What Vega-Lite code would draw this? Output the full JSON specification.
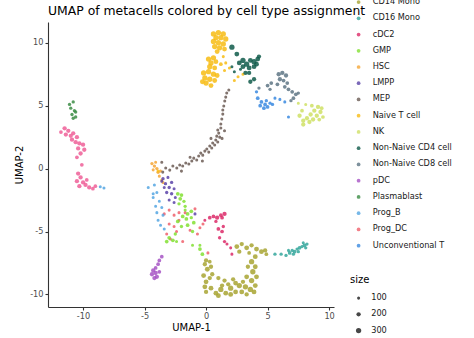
{
"$schema": "https://vega.github.io/schema/vega-lite/v6.json",
"width": 286, "height": 285,
"autosize": {"type": "none"},
"padding": {"left": 48, "top": 22, "right": 140, "bottom": 31},
"background": "white",
"title": {"text": "UMAP of metacells colored by cell type assignment", "anchor": "start", "frame": "group", "fontSize": 12.4, "font": "DejaVu Sans", "fontWeight": "normal", "color": "#000", "offset": -51},
"config": {"view": {"stroke": null}, "font": "DejaVu Sans"},
"data": {"values": [
{"x":2.5,"y":-6.2,"type":"CD14 Mono","size":250},{"x":2.9,"y":-6.0,"type":"CD14 Mono","size":200},{"x":3.3,"y":-6.3,"type":"CD14 Mono","size":250},{"x":3.7,"y":-6.1,"type":"CD14 Mono","size":200},{"x":4.1,"y":-6.4,"type":"CD14 Mono","size":250},{"x":4.5,"y":-6.6,"type":"CD14 Mono","size":250},{"x":4.8,"y":-6.5,"type":"CD14 Mono","size":200},{"x":4.9,"y":-6.8,"type":"CD14 Mono","size":150},{"x":2.7,"y":-6.6,"type":"CD14 Mono","size":200},{"x":3.5,"y":-6.7,"type":"CD14 Mono","size":150},
{"x":4.0,"y":-7.0,"type":"CD14 Mono","size":250},{"x":3.7,"y":-7.4,"type":"CD14 Mono","size":300},{"x":4.0,"y":-7.8,"type":"CD14 Mono","size":250},{"x":3.8,"y":-8.2,"type":"CD14 Mono","size":300},{"x":4.1,"y":-8.6,"type":"CD14 Mono","size":250},{"x":3.7,"y":-8.9,"type":"CD14 Mono","size":300},{"x":4.0,"y":-9.3,"type":"CD14 Mono","size":250},{"x":3.6,"y":-9.6,"type":"CD14 Mono","size":300},{"x":3.9,"y":-9.8,"type":"CD14 Mono","size":250},{"x":3.4,"y":-7.8,"type":"CD14 Mono","size":200},{"x":3.3,"y":-8.6,"type":"CD14 Mono","size":250},
{"x":3.2,"y":-9.4,"type":"CD14 Mono","size":300},{"x":2.9,"y":-9.8,"type":"CD14 Mono","size":250},{"x":2.7,"y":-9.3,"type":"CD14 Mono","size":300},{"x":2.4,"y":-9.8,"type":"CD14 Mono","size":250},{"x":2.0,"y":-9.5,"type":"CD14 Mono","size":300},{"x":1.6,"y":-9.9,"type":"CD14 Mono","size":250},{"x":1.2,"y":-9.6,"type":"CD14 Mono","size":300},{"x":0.8,"y":-9.9,"type":"CD14 Mono","size":250},{"x":0.4,"y":-9.5,"type":"CD14 Mono","size":250},{"x":0.0,"y":-9.8,"type":"CD14 Mono","size":200},{"x":-0.1,"y":-9.4,"type":"CD14 Mono","size":250},{"x":3.3,"y":-10.0,"type":"CD14 Mono","size":200},{"x":2.0,"y":-10.0,"type":"CD14 Mono","size":250},{"x":1.0,"y":-10.1,"type":"CD14 Mono","size":250},{"x":2.4,"y":-9.1,"type":"CD14 Mono","size":250},{"x":1.8,"y":-9.2,"type":"CD14 Mono","size":200},{"x":3.0,"y":-9.0,"type":"CD14 Mono","size":200},{"x":1.3,"y":-9.3,"type":"CD14 Mono","size":200},
{"x":0.0,"y":-9.0,"type":"CD14 Mono","size":250},{"x":0.3,"y":-8.7,"type":"CD14 Mono","size":200},{"x":-0.2,"y":-8.5,"type":"CD14 Mono","size":250},{"x":0.5,"y":-8.4,"type":"CD14 Mono","size":200},{"x":1.0,"y":-8.7,"type":"CD14 Mono","size":200},{"x":0.1,"y":-8.0,"type":"CD14 Mono","size":250},{"x":-0.1,"y":-7.6,"type":"CD14 Mono","size":200},{"x":0.4,"y":-7.8,"type":"CD14 Mono","size":200},{"x":0.3,"y":-7.4,"type":"CD14 Mono","size":150},{"x":0.0,"y":-7.3,"type":"CD14 Mono","size":200},{"x":1.5,"y":-8.9,"type":"CD14 Mono","size":200},{"x":2.2,"y":-8.8,"type":"CD14 Mono","size":200},
{"x":5.6,"y":-6.8,"type":"CD16 Mono","size":120},{"x":6.1,"y":-6.8,"type":"CD16 Mono","size":120},{"x":6.5,"y":-6.9,"type":"CD16 Mono","size":120},{"x":6.8,"y":-6.7,"type":"CD16 Mono","size":150},{"x":7.0,"y":-6.5,"type":"CD16 Mono","size":120},{"x":7.2,"y":-6.6,"type":"CD16 Mono","size":150},{"x":7.4,"y":-6.4,"type":"CD16 Mono","size":120},{"x":7.6,"y":-6.3,"type":"CD16 Mono","size":150},{"x":7.8,"y":-6.2,"type":"CD16 Mono","size":120},{"x":8.0,"y":-6.1,"type":"CD16 Mono","size":150},{"x":8.2,"y":-6.0,"type":"CD16 Mono","size":120},{"x":7.1,"y":-6.8,"type":"CD16 Mono","size":120},{"x":6.7,"y":-6.5,"type":"CD16 Mono","size":100},{"x":7.5,"y":-6.6,"type":"CD16 Mono","size":120},{"x":7.9,"y":-5.9,"type":"CD16 Mono","size":100},{"x":8.1,"y":-6.3,"type":"CD16 Mono","size":120},
{"x":0.3,"y":-3.9,"type":"cDC2","size":150},{"x":0.6,"y":-3.8,"type":"cDC2","size":150},{"x":0.9,"y":-3.9,"type":"cDC2","size":200},{"x":1.2,"y":-3.7,"type":"cDC2","size":150},{"x":1.5,"y":-3.6,"type":"cDC2","size":200},{"x":1.3,"y":-3.9,"type":"cDC2","size":150},{"x":0.8,"y":-4.2,"type":"cDC2","size":120},{"x":1.0,"y":-4.8,"type":"cDC2","size":150},{"x":1.3,"y":-5.0,"type":"cDC2","size":150},{"x":1.1,"y":-5.5,"type":"cDC2","size":120},{"x":1.5,"y":-5.8,"type":"cDC2","size":120},{"x":1.7,"y":-6.0,"type":"cDC2","size":100},{"x":2.0,"y":-6.3,"type":"cDC2","size":100},{"x":2.1,"y":-6.8,"type":"cDC2","size":100},{"x":1.4,"y":-4.6,"type":"cDC2","size":120},{"x":-0.1,"y":-4.1,"type":"cDC2","size":100},
{"x":-3.4,"y":-3.6,"type":"Prog_DC","size":100},{"x":-3.0,"y":-3.3,"type":"Prog_DC","size":100},{"x":-2.6,"y":-3.7,"type":"Prog_DC","size":100},{"x":-2.2,"y":-3.5,"type":"Prog_DC","size":100},{"x":-1.7,"y":-3.5,"type":"Prog_DC","size":100},{"x":-0.9,"y":-3.2,"type":"Prog_DC","size":100},{"x":-3.0,"y":-4.4,"type":"Prog_DC","size":100},{"x":-2.2,"y":-4.1,"type":"Prog_DC","size":100},{"x":-2.6,"y":-4.6,"type":"Prog_DC","size":100},{"x":-1.3,"y":-4.9,"type":"Prog_DC","size":100},{"x":-3.2,"y":-5.2,"type":"Prog_DC","size":100},{"x":-2.9,"y":-5.6,"type":"Prog_DC","size":100},{"x":-0.5,"y":-4.7,"type":"Prog_DC","size":100},{"x":-0.25,"y":-4.4,"type":"Prog_DC","size":100},{"x":-0.7,"y":-5.2,"type":"Prog_DC","size":100},{"x":0.15,"y":-6.7,"type":"Prog_DC","size":100},{"x":-1.9,"y":-5.8,"type":"Prog_DC","size":100},{"x":-2.4,"y":-5.0,"type":"Prog_DC","size":100},
{"x":-2.3,"y":-2.0,"type":"GMP","size":150},{"x":-2.0,"y":-2.1,"type":"GMP","size":150},{"x":-2.1,"y":-2.4,"type":"GMP","size":150},{"x":-1.8,"y":-2.6,"type":"GMP","size":120},{"x":-2.2,"y":-2.8,"type":"GMP","size":120},{"x":-1.7,"y":-3.0,"type":"GMP","size":120},{"x":-1.7,"y":-3.3,"type":"GMP","size":100},{"x":-1.5,"y":-3.6,"type":"GMP","size":150},{"x":-1.2,"y":-3.4,"type":"GMP","size":150},{"x":-1.9,"y":-3.8,"type":"GMP","size":150},{"x":-2.3,"y":-4.2,"type":"GMP","size":150},{"x":-1.6,"y":-4.0,"type":"GMP","size":150},{"x":-1.2,"y":-3.9,"type":"GMP","size":120},{"x":-1.0,"y":-4.3,"type":"GMP","size":150},{"x":-1.5,"y":-4.5,"type":"GMP","size":150},{"x":-2.0,"y":-4.6,"type":"GMP","size":120},{"x":-1.1,"y":-5.0,"type":"GMP","size":120},{"x":-2.5,"y":-5.2,"type":"GMP","size":120},{"x":-3.0,"y":-5.5,"type":"GMP","size":150},{"x":-2.7,"y":-5.7,"type":"GMP","size":150},{"x":-3.2,"y":-5.8,"type":"GMP","size":150},{"x":-2.4,"y":-5.8,"type":"GMP","size":100},{"x":-1.1,"y":-6.1,"type":"GMP","size":100},{"x":-0.5,"y":-6.4,"type":"GMP","size":150},{"x":-0.3,"y":-6.8,"type":"GMP","size":150},{"x":-0.5,"y":-6.1,"type":"GMP","size":100},
{"x":-4.4,"y":0.4,"type":"HSC","size":120},{"x":-4.2,"y":0.2,"type":"HSC","size":120},{"x":-4.0,"y":0.0,"type":"HSC","size":120},{"x":-4.3,"y":-0.1,"type":"HSC","size":100},{"x":-3.9,"y":-0.3,"type":"HSC","size":120},{"x":-3.8,"y":-0.6,"type":"HSC","size":100},{"x":-3.6,"y":-0.9,"type":"HSC","size":100},{"x":-3.5,"y":-1.1,"type":"HSC","size":100},{"x":-4.1,"y":0.5,"type":"HSC","size":100},{"x":-3.7,"y":-0.2,"type":"HSC","size":100},
{"x":-3.5,"y":-0.8,"type":"LMPP","size":120},{"x":-3.1,"y":-0.7,"type":"LMPP","size":100},{"x":-3.3,"y":-1.2,"type":"LMPP","size":120},{"x":-2.8,"y":-1.1,"type":"LMPP","size":120},{"x":-3.0,"y":-1.5,"type":"LMPP","size":120},{"x":-2.6,"y":-1.6,"type":"LMPP","size":100},{"x":-3.2,"y":-1.9,"type":"LMPP","size":120},{"x":-2.8,"y":-2.0,"type":"LMPP","size":120},{"x":-2.5,"y":-2.3,"type":"LMPP","size":100},{"x":-3.0,"y":-2.5,"type":"LMPP","size":100},{"x":-2.6,"y":-2.7,"type":"LMPP","size":100},{"x":-3.4,"y":-1.5,"type":"LMPP","size":100},{"x":-0.9,"y":-3.6,"type":"LMPP","size":100},{"x":-3.6,"y":-1.0,"type":"LMPP","size":100},
{"x":-4.7,"y":-1.5,"type":"Prog_B","size":100},{"x":-4.2,"y":-1.3,"type":"Prog_B","size":100},{"x":-4.0,"y":-1.9,"type":"Prog_B","size":100},{"x":-4.3,"y":-2.3,"type":"Prog_B","size":100},{"x":-3.8,"y":-2.6,"type":"Prog_B","size":100},{"x":-4.1,"y":-3.0,"type":"Prog_B","size":100},{"x":-3.6,"y":-3.1,"type":"Prog_B","size":100},{"x":-4.0,"y":-3.5,"type":"Prog_B","size":100},{"x":-3.5,"y":-3.7,"type":"Prog_B","size":100},{"x":-3.9,"y":-4.1,"type":"Prog_B","size":100},{"x":-3.7,"y":-4.5,"type":"Prog_B","size":100},{"x":-4.3,"y":-2.0,"type":"Prog_B","size":100},{"x":-3.4,"y":-4.8,"type":"Prog_B","size":100},{"x":-8.6,"y":-1.45,"type":"Prog_B","size":100},{"x":-8.3,"y":-1.55,"type":"Prog_B","size":100},
{"x":-3.52,"y":-0.28,"type":"MEP","size":100},{"x":-3.28,"y":0.04,"type":"MEP","size":100},{"x":-2.95,"y":-0.12,"type":"MEP","size":100},{"x":-2.7,"y":0.2,"type":"MEP","size":100},{"x":-2.38,"y":0.04,"type":"MEP","size":100},{"x":-2.14,"y":0.28,"type":"MEP","size":100},{"x":-1.9,"y":0.2,"type":"MEP","size":100},{"x":-1.65,"y":0.44,"type":"MEP","size":100},{"x":-1.4,"y":0.36,"type":"MEP","size":100},{"x":-1.16,"y":0.6,"type":"MEP","size":100},{"x":-1.0,"y":0.83,"type":"MEP","size":100},{"x":-0.76,"y":0.68,"type":"MEP","size":100},{"x":-0.6,"y":1.0,"type":"MEP","size":100},{"x":-0.43,"y":1.23,"type":"MEP","size":100},{"x":-0.27,"y":1.07,"type":"MEP","size":100},{"x":-0.1,"y":1.39,"type":"MEP","size":100},{"x":0.06,"y":1.55,"type":"MEP","size":100},{"x":0.22,"y":1.31,"type":"MEP","size":100},{"x":0.3,"y":1.79,"type":"MEP","size":100},{"x":0.46,"y":1.63,"type":"MEP","size":100},{"x":0.54,"y":2.03,"type":"MEP","size":100},{"x":0.7,"y":1.87,"type":"MEP","size":100},{"x":0.79,"y":2.27,"type":"MEP","size":100},{"x":0.95,"y":2.11,"type":"MEP","size":100},{"x":0.87,"y":2.58,"type":"MEP","size":100},{"x":1.03,"y":2.82,"type":"MEP","size":100},{"x":1.11,"y":2.5,"type":"MEP","size":100},{"x":0.95,"y":3.06,"type":"MEP","size":100},{"x":1.2,"y":3.22,"type":"MEP","size":100},{"x":1.2,"y":3.54,"type":"MEP","size":100},{"x":1.28,"y":3.94,"type":"MEP","size":100},{"x":1.36,"y":4.33,"type":"MEP","size":100},{"x":1.36,"y":4.65,"type":"MEP","size":100},{"x":1.44,"y":4.97,"type":"MEP","size":100},{"x":1.52,"y":5.37,"type":"MEP","size":100},{"x":1.6,"y":5.68,"type":"MEP","size":100},{"x":1.68,"y":6.0,"type":"MEP","size":100},{"x":1.85,"y":6.24,"type":"MEP","size":100},{"x":-2.0,"y":-0.2,"type":"MEP","size":100},{"x":-1.3,"y":0.9,"type":"MEP","size":100},{"x":-0.3,"y":0.6,"type":"MEP","size":100},{"x":0.4,"y":2.4,"type":"MEP","size":100},{"x":1.3,"y":2.4,"type":"MEP","size":100},{"x":1.5,"y":3.0,"type":"MEP","size":100},{"x":-3.6,"y":0.5,"type":"MEP","size":100},
{"x":0.6,"y":10.7,"type":"Naive T cell","size":300},{"x":1.0,"y":10.8,"type":"Naive T cell","size":300},{"x":1.4,"y":10.7,"type":"Naive T cell","size":300},{"x":0.8,"y":10.4,"type":"Naive T cell","size":300},{"x":1.2,"y":10.4,"type":"Naive T cell","size":300},{"x":1.6,"y":10.3,"type":"Naive T cell","size":300},{"x":0.6,"y":10.1,"type":"Naive T cell","size":300},{"x":1.0,"y":10.0,"type":"Naive T cell","size":300},{"x":1.4,"y":9.9,"type":"Naive T cell","size":300},{"x":0.7,"y":9.7,"type":"Naive T cell","size":300},{"x":1.1,"y":9.6,"type":"Naive T cell","size":300},{"x":1.5,"y":9.5,"type":"Naive T cell","size":250},{"x":0.9,"y":9.3,"type":"Naive T cell","size":250},
{"x":0.2,"y":8.7,"type":"Naive T cell","size":300},{"x":0.6,"y":8.8,"type":"Naive T cell","size":300},{"x":0.4,"y":8.4,"type":"Naive T cell","size":300},{"x":0.8,"y":8.5,"type":"Naive T cell","size":250},{"x":0.3,"y":8.1,"type":"Naive T cell","size":300},{"x":0.7,"y":8.0,"type":"Naive T cell","size":250},{"x":1.2,"y":8.3,"type":"Naive T cell","size":150},
{"x":-0.2,"y":7.6,"type":"Naive T cell","size":300},{"x":0.2,"y":7.7,"type":"Naive T cell","size":300},{"x":0.6,"y":7.5,"type":"Naive T cell","size":300},{"x":0.9,"y":7.4,"type":"Naive T cell","size":250},{"x":-0.1,"y":7.2,"type":"Naive T cell","size":300},{"x":0.3,"y":7.1,"type":"Naive T cell","size":300},{"x":0.7,"y":7.0,"type":"Naive T cell","size":250},{"x":0.0,"y":6.8,"type":"Naive T cell","size":300},{"x":0.4,"y":6.6,"type":"Naive T cell","size":250},{"x":-0.3,"y":6.9,"type":"Naive T cell","size":250},
{"x":1.4,"y":8.9,"type":"Naive T cell","size":100},{"x":1.6,"y":8.4,"type":"Naive T cell","size":100},{"x":1.9,"y":8.0,"type":"Naive T cell","size":100},{"x":1.5,"y":7.8,"type":"Naive T cell","size":100},{"x":2.6,"y":7.3,"type":"Naive T cell","size":100},{"x":3.0,"y":7.5,"type":"Naive T cell","size":100},{"x":2.3,"y":7.0,"type":"Naive T cell","size":100},{"x":-3.9,"y":-0.2,"type":"Naive T cell","size":100},
{"x":2.1,"y":9.65,"type":"Non-Naive CD4 cell","size":300},{"x":2.5,"y":9.1,"type":"Non-Naive CD4 cell","size":250},{"x":2.7,"y":8.4,"type":"Non-Naive CD4 cell","size":250},{"x":3.0,"y":8.6,"type":"Non-Naive CD4 cell","size":300},{"x":3.3,"y":8.3,"type":"Non-Naive CD4 cell","size":300},{"x":3.6,"y":8.6,"type":"Non-Naive CD4 cell","size":250},{"x":3.9,"y":8.5,"type":"Non-Naive CD4 cell","size":300},{"x":4.2,"y":8.7,"type":"Non-Naive CD4 cell","size":250},{"x":3.0,"y":8.1,"type":"Non-Naive CD4 cell","size":250},{"x":3.5,"y":8.0,"type":"Non-Naive CD4 cell","size":250},{"x":3.9,"y":8.1,"type":"Non-Naive CD4 cell","size":250},{"x":4.1,"y":8.3,"type":"Non-Naive CD4 cell","size":250},{"x":3.2,"y":7.6,"type":"Non-Naive CD4 cell","size":200},{"x":3.5,"y":7.6,"type":"Non-Naive CD4 cell","size":200},{"x":3.6,"y":6.9,"type":"Non-Naive CD4 cell","size":200},{"x":3.9,"y":7.1,"type":"Non-Naive CD4 cell","size":200},{"x":4.3,"y":8.9,"type":"Non-Naive CD4 cell","size":200},{"x":2.1,"y":8.1,"type":"Non-Naive CD4 cell","size":100},{"x":2.3,"y":7.7,"type":"Non-Naive CD4 cell","size":100},{"x":2.8,"y":7.9,"type":"Non-Naive CD4 cell","size":100},
{"x":5.9,"y":7.5,"type":"Non-Naive CD8 cell","size":200},{"x":6.2,"y":7.6,"type":"Non-Naive CD8 cell","size":200},{"x":6.5,"y":7.4,"type":"Non-Naive CD8 cell","size":200},{"x":6.0,"y":7.1,"type":"Non-Naive CD8 cell","size":200},{"x":6.3,"y":7.0,"type":"Non-Naive CD8 cell","size":150},{"x":6.6,"y":6.8,"type":"Non-Naive CD8 cell","size":150},{"x":5.8,"y":6.7,"type":"Non-Naive CD8 cell","size":150},{"x":6.4,"y":6.5,"type":"Non-Naive CD8 cell","size":150},{"x":6.7,"y":6.3,"type":"Non-Naive CD8 cell","size":150},{"x":7.0,"y":6.1,"type":"Non-Naive CD8 cell","size":150},{"x":7.3,"y":5.9,"type":"Non-Naive CD8 cell","size":150},{"x":7.1,"y":5.6,"type":"Non-Naive CD8 cell","size":150},{"x":7.5,"y":6.0,"type":"Non-Naive CD8 cell","size":120},{"x":6.9,"y":5.4,"type":"Non-Naive CD8 cell","size":120},{"x":5.0,"y":6.6,"type":"Non-Naive CD8 cell","size":150},{"x":5.3,"y":6.8,"type":"Non-Naive CD8 cell","size":150},{"x":4.3,"y":6.4,"type":"Non-Naive CD8 cell","size":120},{"x":5.2,"y":6.3,"type":"Non-Naive CD8 cell","size":120},
{"x":4.2,"y":5.6,"type":"Unconventional T","size":150},{"x":4.5,"y":5.3,"type":"Unconventional T","size":150},{"x":4.4,"y":5.0,"type":"Unconventional T","size":150},{"x":4.8,"y":5.1,"type":"Unconventional T","size":150},{"x":5.0,"y":4.9,"type":"Unconventional T","size":150},{"x":5.2,"y":5.2,"type":"Unconventional T","size":120},{"x":4.7,"y":4.8,"type":"Unconventional T","size":150},{"x":5.4,"y":5.1,"type":"Unconventional T","size":120},{"x":4.9,"y":5.4,"type":"Unconventional T","size":120},{"x":4.1,"y":6.1,"type":"Unconventional T","size":120},{"x":6.0,"y":5.5,"type":"Unconventional T","size":100},{"x":6.4,"y":5.3,"type":"Unconventional T","size":100},{"x":6.7,"y":4.1,"type":"Unconventional T","size":100},{"x":5.6,"y":5.6,"type":"Unconventional T","size":100},
{"x":7.6,"y":4.2,"type":"NK","size":200},{"x":7.9,"y":3.8,"type":"NK","size":200},{"x":8.2,"y":4.0,"type":"NK","size":200},{"x":8.5,"y":4.3,"type":"NK","size":200},{"x":8.8,"y":4.6,"type":"NK","size":200},{"x":9.1,"y":4.9,"type":"NK","size":200},{"x":9.3,"y":4.5,"type":"NK","size":200},{"x":9.0,"y":4.2,"type":"NK","size":200},{"x":8.7,"y":3.9,"type":"NK","size":200},{"x":8.4,"y":3.7,"type":"NK","size":200},{"x":7.8,"y":4.6,"type":"NK","size":150},{"x":8.6,"y":5.0,"type":"NK","size":150},{"x":9.4,"y":4.8,"type":"NK","size":150},{"x":9.5,"y":4.1,"type":"NK","size":150},{"x":7.5,"y":5.2,"type":"NK","size":100},{"x":8.1,"y":5.1,"type":"NK","size":100},{"x":7.9,"y":3.5,"type":"NK","size":200},{"x":9.2,"y":3.9,"type":"NK","size":150},
{"x":-11.1,"y":5.1,"type":"Plasmablast","size":120},{"x":-10.8,"y":5.3,"type":"Plasmablast","size":120},{"x":-11.0,"y":4.8,"type":"Plasmablast","size":120},{"x":-10.7,"y":4.6,"type":"Plasmablast","size":120},{"x":-10.9,"y":4.3,"type":"Plasmablast","size":120},{"x":-10.6,"y":4.1,"type":"Plasmablast","size":120},{"x":-10.8,"y":4.0,"type":"Plasmablast","size":120},{"x":-10.6,"y":4.5,"type":"Plasmablast","size":120},
{"x":-11.8,"y":2.9,"type":"B cell","size":150},{"x":-11.5,"y":3.2,"type":"B cell","size":200},{"x":-11.2,"y":3.0,"type":"B cell","size":200},{"x":-11.4,"y":2.7,"type":"B cell","size":200},{"x":-11.0,"y":2.6,"type":"B cell","size":200},{"x":-10.8,"y":2.8,"type":"B cell","size":200},{"x":-10.9,"y":2.3,"type":"B cell","size":200},{"x":-10.5,"y":2.5,"type":"B cell","size":200},{"x":-10.6,"y":2.1,"type":"B cell","size":200},{"x":-10.3,"y":2.0,"type":"B cell","size":200},{"x":-10.0,"y":1.9,"type":"B cell","size":200},{"x":-10.4,"y":1.6,"type":"B cell","size":200},{"x":-9.9,"y":1.5,"type":"B cell","size":200},{"x":-10.2,"y":1.2,"type":"B cell","size":200},{"x":-10.5,"y":0.9,"type":"B cell","size":150},{"x":-10.1,"y":0.3,"type":"B cell","size":150},{"x":-10.4,"y":-0.4,"type":"B cell","size":200},{"x":-10.2,"y":-0.7,"type":"B cell","size":200},{"x":-10.5,"y":-1.0,"type":"B cell","size":200},{"x":-10.0,"y":-1.1,"type":"B cell","size":200},{"x":-10.3,"y":-1.4,"type":"B cell","size":200},{"x":-9.8,"y":-1.3,"type":"B cell","size":200},{"x":-9.5,"y":-1.5,"type":"B cell","size":200},{"x":-9.2,"y":-1.6,"type":"B cell","size":150},{"x":-9.0,"y":-1.4,"type":"B cell","size":150},{"x":-9.7,"y":-0.9,"type":"B cell","size":150},
{"x":-3.6,"y":-7.0,"type":"pDC","size":150},{"x":-3.8,"y":-7.3,"type":"pDC","size":150},{"x":-3.9,"y":-7.6,"type":"pDC","size":150},{"x":-4.1,"y":-7.9,"type":"pDC","size":150},{"x":-4.3,"y":-8.1,"type":"pDC","size":200},{"x":-4.1,"y":-8.3,"type":"pDC","size":200},{"x":-4.4,"y":-8.4,"type":"pDC","size":200},{"x":-4.0,"y":-8.6,"type":"pDC","size":200},{"x":-4.2,"y":-8.7,"type":"pDC","size":200},{"x":-3.8,"y":-8.2,"type":"pDC","size":150}
]},
"mark": {"type": "circle", "opacity": 0.85},
"encoding": {
"x": {"field": "x", "type": "quantitative", "scale": {"domain": [-12.85, 10.4], "nice": false, "zero": false},
 "axis": {"values": [-10, -5, 0, 5, 10], "title": "UMAP-1", "grid": false, "domainColor": "#333", "domainWidth": 1.1, "tickColor": "#333", "tickSize": 3, "tickWidth": 1.1, "labelColor": "#4d4d4d", "labelFontSize": 8.2, "labelFont": "DejaVu Sans", "titleFont": "DejaVu Sans", "titleFontSize": 10, "titleFontWeight": "normal", "titleColor": "#000", "labelExpr": "'' + datum.value", "labelPadding": 2, "titlePadding": 3}},
"y": {"field": "y", "type": "quantitative", "scale": {"domain": [-11.0, 11.65], "nice": false, "zero": false},
 "axis": {"values": [-10, -5, 0, 5, 10], "title": "UMAP-2", "grid": false, "domainColor": "#333", "domainWidth": 1.1, "tickColor": "#333", "tickSize": 3, "tickWidth": 1.1, "labelColor": "#4d4d4d", "labelFontSize": 8.2, "labelFont": "DejaVu Sans", "titleFont": "DejaVu Sans", "titleFontSize": 10, "titleFontWeight": "normal", "titleColor": "#000", "labelExpr": "'' + datum.value", "labelPadding": 2, "titlePadding": 5}},
"color": {"field": "type", "type": "nominal",
 "scale": {"domain": ["B cell", "CD14 Mono", "CD16 Mono", "cDC2", "GMP", "HSC", "LMPP", "MEP", "Naive T cell", "NK", "Non-Naive CD4 cell", "Non-Naive CD8 cell", "pDC", "Plasmablast", "Prog_B", "Prog_DC", "Unconventional T"],
  "range": ["#ee5f98", "#a8a433", "#35a79c", "#dc2a68", "#82e032", "#f5a636", "#5a43a8", "#6c5c55", "#f7bc14", "#cfe065", "#0f5a4a", "#5e7585", "#a653c4", "#3b8c44", "#55a6e2", "#f0606c", "#3a8ae0"]},
 "legend": {"title": "cell type", "orient": "none", "legendX": 302, "legendY": -55.3, "symbolType": "circle", "symbolSize": 14, "symbolOpacity": 0.8, "symbolStrokeWidth": 0, "symbolOffset": 4.5, "labelOffset": 10, "labelFontSize": 8.2, "labelFont": "DejaVu Sans", "labelColor": "#1a1a1a", "titleFontSize": 10, "titleFont": "DejaVu Sans", "titleFontWeight": "normal", "titleColor": "#000", "rowPadding": 7.24, "padding": 0}},
"size": {"field": "size", "type": "quantitative", "scale": {"domain": [0, 300], "range": [0, 28]},
 "legend": {"title": "size", "orient": "none", "legendX": 302, "legendY": 253, "values": [100, 200, 300], "symbolType": "circle", "symbolFillColor": "#333", "symbolStrokeWidth": 0, "symbolOpacity": 0.9, "symbolOffset": 4.5, "labelOffset": 8.5, "labelFontSize": 8.2, "labelFont": "DejaVu Sans", "labelColor": "#1a1a1a", "titleFontSize": 10, "titleFont": "DejaVu Sans", "titleFontWeight": "normal", "titleColor": "#000", "titlePadding": 9, "rowPadding": 7.24, "padding": 0}}
}
}
